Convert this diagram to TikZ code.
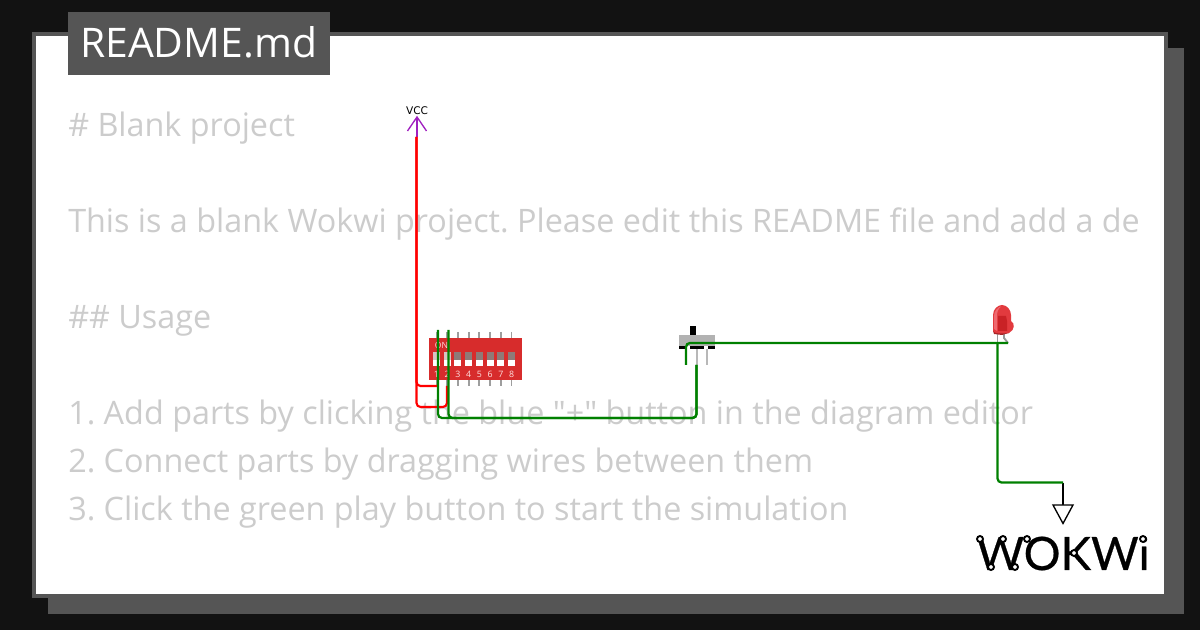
\documentclass[tikz,border=0pt]{standalone}
\usepackage{fontspec}
\setmainfont{Open Sans}
\newfontfamily\mdfont{Open Sans}
\newfontfamily\logofont[FakeBold=0.6]{Lato}
\newfontfamily\vccfont{DejaVu Sans}
\frenchspacing
\usetikzlibrary{arrows.meta}
\definecolor{bgdark}{HTML}{121212}
\definecolor{panel}{HTML}{555555}
\definecolor{ghost}{HTML}{CCCCCC}
\definecolor{wgreen}{HTML}{008000}
\definecolor{wred}{HTML}{FF0000}
\definecolor{dipred}{HTML}{D72C2C}
\definecolor{vccp}{HTML}{A020C0}
\definecolor{dipoff}{HTML}{8E7A78}
\definecolor{dipon}{HTML}{D8C4C4}
\definecolor{ledout}{HTML}{E23A3E}
\definecolor{ledhi}{HTML}{EE6A70}
\definecolor{ledin}{HTML}{C92226}
\definecolor{leddk}{HTML}{A82226}
\tikzset{
  x=0.75pt,y=-0.75pt,
  mdline/.style={anchor=base west,inner sep=0pt,text=ghost,font=\mdfont\fontsize{24.25}{24}\selectfont},
  wirer/.style={draw=wred,line width=1.6pt,rounded corners=3pt},
  wireg/.style={draw=wgreen,line width=1.7pt,rounded corners=3pt},
  dippin/.style={draw=black!38,line width=1.4pt},
  dipnum/.style={text=white!88!red,font=\mdfont\fontsize{6.6}{6}\selectfont,inner sep=0pt},
  swpin/.style={draw=black!28,line width=1.4pt},
  logodot/.style={draw=black,line width=1.4pt,fill=white},
}
\begin{document}
\begin{tikzpicture}
\useasboundingbox (0,0) rectangle (1200,630);
\fill[bgdark] (0,0) rectangle (1200,630);
\fill[panel] (48,48) rectangle (1184,614);
\fill[panel] (32,32) rectangle (1168,598);
\fill[white] (36,36) rectangle (1164,594);
\node[mdline] (l1) at (68,137) {\# Blank project};
\node[mdline] (l2) at (68,233) {This is a blank Wokwi project. Please edit this README file and add a de};
\node[mdline] (l3) at (68,329) {\#\# Usage};
\node[mdline] (l4) at (68,425) {1. Add parts by clicking the blue "+" button in the diagram editor};
\node[mdline] (l5) at (68,473) {2. Connect parts by dragging wires between them};
\node[mdline] (l6) at (68,521) {3. Click the green play button to start the simulation};
\fill[panel] (68,12) rectangle (330,75);
\node[anchor=base west,inner sep=0pt,text=white,font=\mdfont\fontsize{30.6}{32}\selectfont] (title) at (80,58) {README.md};

% DIP switch
\foreach \i in {0,...,7} {
  \draw[dippin] (436.5+10.72*\i,332) -- (436.5+10.72*\i,386);
}
\fill[dipred] (429,338) rectangle (522,380);
\node[text=white!85!red,font=\mdfont\fontsize{6.4}{6}\selectfont,inner sep=0pt] (dipon) at (441.5,345) {ON};
\foreach \i in {0,...,7} {
  \pgfmathsetmacro{\xx}{436.5+10.72*\i}
  \ifnum\i<2
    \fill[dipon] (\xx-3.5,352) rectangle (\xx+3.5,360);
  \else
    \fill[dipoff] (\xx-3.5,352) rectangle (\xx+3.5,360);
  \fi
  \fill[white] (\xx-3.5,360) rectangle (\xx+3.5,366.5);
  \pgfmathtruncatemacro{\nn}{\i+1}
  \node[dipnum] (dipn\nn) at (\xx,374) {\nn};
}

% Slide switch
\fill[black] (690,326) rectangle (696,335);
\fill[black!30] (679,335) rectangle (715,346);
\fill[black] (679,346) rectangle (686,349);
\fill[black] (690,346) rectangle (704,349);
\fill[black] (708,346) rectangle (715,349);
\draw[swpin] (686,349) -- (686,365);
\draw[swpin] (697,349) -- (697,365);
\draw[swpin] (707,349) -- (707,365);

% LED
\draw[black!40,line width=1.4pt] (997.5,333) -- (997.5,343);
\draw[black!40,line width=1.4pt] (1004,333) -- (1004,338) -- (1008,343);
\fill[leddk] (993,331) -- (1009,333) -- (1002,335) -- (994,334) -- cycle;
\fill[ledout] (993,331) -- (993,315) .. controls (993,309) and (998,305) .. (1002,305) .. controls (1007,305) and (1011,310) .. (1011,315) -- (1011,321) .. controls (1015,323) and (1015,330) .. (1009,333) -- (1002,333.5) .. controls (998,333.5) and (994,333) .. (993,331) -- cycle;
\fill[ledhi] (994,329) -- (994,316) .. controls (994,311) and (998,307) .. (1001,306.5) .. controls (998,309) and (997,312) .. (997,316) -- (997,331) -- cycle;
\fill[ledin] (998,316) -- (1006,316) -- (1007,321) -- (1007,331) -- (998,331) -- cycle;

% VCC
\coordinate (vcct) at (417,117);
\coordinate (vccb) at (417,137);
\node[inner sep=0pt,font=\vccfont\fontsize{7.9}{8}\selectfont] (vcc) at (417,111) {VCC};
\draw[vccp,line width=1pt] (407.5,131) -- (vcct) -- (426.5,131);
\draw[vccp,line width=1pt] (vcct) -- (vccb);

% GND
\coordinate (gndt) at (1063,483);
\coordinate (gndb) at (1063,505);
\draw[black,line width=1pt] (gndt) -- (gndb);
\draw[black,line width=1pt,fill=white] (1053,505) -- (1073,505) -- (1063,523.5) -- cycle;

% wires
\coordinate (r1a) at (416.5,137);
\coordinate (r1b) at (437,386);
\coordinate (r2b) at (447,386);
\coordinate (g1a) at (438,330);
\coordinate (g2a) at (448.5,330);
\coordinate (swp3) at (696.5,365);
\coordinate (swp1) at (686,365);
\coordinate (ledc) at (1008,343);
\coordinate (leda) at (997.5,343);
\draw[wirer] (r1a) -- (416.5,386) -- (r1b);
\draw[wirer] (r1a) -- (416.5,407) -- (447,407) -- (r2b);
\draw[wireg] (g1a) -- (438,418) -- (696.5,418) -- (swp3);
\draw[wireg] (g2a) -- (448.5,418) -- (696.5,418) -- (swp3);
\draw[wireg] (swp1) -- (686,343) -- (ledc);
\draw[wireg] (leda) -- (997.5,482.5) -- (1063,482.5);

% logo
\node[anchor=base,inner sep=0pt,font=\logofont\fontsize{34.5}{34}\selectfont] (logo) at (1063,570) {WOKWi};
\foreach \p in {(980,539),(991,567),(1003,539),(1015,567),(1027,539),(1074,553),(1143,539)} {
  \path[logodot] \p circle (3);
}
\end{tikzpicture}
\end{document}
